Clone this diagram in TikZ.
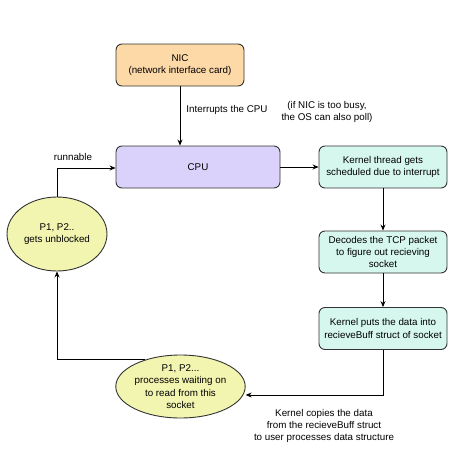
\documentclass[tikz,border=0pt]{standalone}
\usepackage{fontspec}
\setmainfont{Liberation Sans}
\usetikzlibrary{arrows.meta,shapes.geometric}
\definecolor{nicfill}{HTML}{FDD9A8}
\definecolor{cpufill}{HTML}{DAD2FA}
\definecolor{grnfill}{HTML}{D6F7EE}
\definecolor{ylwfill}{HTML}{F2F5B0}
\definecolor{strk}{HTML}{333333}
\tikzset{
  txt/.style={font=\fontsize{9.8}{12.4}\selectfont},
  box/.style={txt, draw=strk, line width=0.9pt, rounded corners=6pt, align=center, inner sep=0pt},
  oval/.style={txt, draw=strk, line width=0.9pt, ellipse, align=center, inner sep=0pt, fill=ylwfill},
  lbl/.style={txt, align=center, inner sep=0pt},
  conn/.style={draw=black, line width=0.8pt, -{Stealth[length=6pt,width=5pt]}},
}
\begin{document}
\begin{tikzpicture}[x=1pt,y=-1pt]
\useasboundingbox (0,0) rectangle (474,474);
\node[box, fill=nicfill, minimum width=128pt, minimum height=42pt] (nic) at (180,65) {NIC\\(network interface card)};
\node[box, fill=cpufill, minimum width=164pt, minimum height=42pt] (cpu) at (198,167) {CPU};
\node[box, fill=grnfill, minimum width=128pt, minimum height=42pt] (kt) at (383,167) {Kernel thread gets\\scheduled due to interrupt};
\node[box, fill=grnfill, minimum width=128pt, minimum height=42pt] (dec) at (383,252) {Decodes the TCP packet\\to figure out recieving\\socket};
\node[box, fill=grnfill, minimum width=128pt, minimum height=42pt] (kp) at (383,328.5) {Kernel puts the data into\\recieveBuff struct of socket};
\node[oval, minimum width=105pt, minimum height=63pt] (wait) at (180.5,386.5) {P1, P2...\\processes waiting on\\to read from this\\socket};
\node[oval, minimum width=100pt, minimum height=74pt] (unb) at (57,234) {P1, P2..\\gets unblocked};

\node[lbl] (intr) at (227,110) {Interrupts the CPU};
\node[lbl] (poll) at (327,112) {(if NIC is too busy,\\the OS can also poll)};
\node[lbl] (run) at (73,157) {runnable};
\node[lbl] (copy) at (324,426) {Kernel copies the data\\from the recieveBuff struct\\to user processes data structure};

\draw[conn] (nic.south) -- (cpu.north -| nic.south);
\draw[conn] (cpu.east) -- (kt.west);
\draw[conn] (kt.south) -- (dec.north);
\draw[conn] (dec.south) -- (kp.north);
\coordinate (c1) at (383,395);
\draw[conn] (kp.south) -- (c1) -- (wait.east |- c1);
\draw[conn] (wait.143) -| (unb.south);
\coordinate (c3) at (57,168);
\draw[conn] (unb.north) -- (c3) -- (cpu.west |- c3);
\end{tikzpicture}
\end{document}
